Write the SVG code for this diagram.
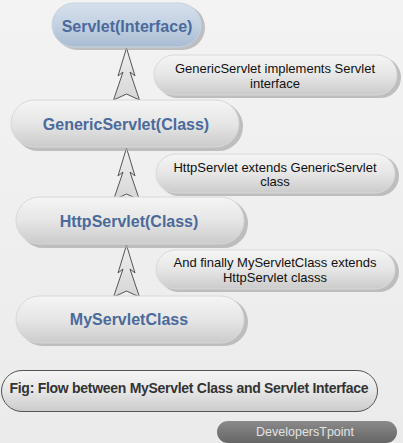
<svg xmlns="http://www.w3.org/2000/svg" width="403" height="443" viewBox="0 0 403 443">
<defs>
<linearGradient id="bg" x1="0" y1="0" x2="0" y2="1"><stop offset="0" stop-color="#f3f3f3"/><stop offset="1" stop-color="#ebebeb"/></linearGradient>
<linearGradient id="gray" x1="0" y1="0" x2="0" y2="1"><stop offset="0" stop-color="#f5f5f5"/><stop offset="0.5" stop-color="#e6e6e6"/><stop offset="1" stop-color="#cbcbcb"/></linearGradient>
<linearGradient id="blue" x1="0" y1="0" x2="0" y2="1"><stop offset="0" stop-color="#d6e0ec"/><stop offset="0.5" stop-color="#c3d1e2"/><stop offset="1" stop-color="#a9bcd3"/></linearGradient>
<linearGradient id="dark" x1="0" y1="0" x2="0" y2="1"><stop offset="0" stop-color="#8a8a8a"/><stop offset="1" stop-color="#666"/></linearGradient>
<linearGradient id="arrowfill" x1="0" y1="0" x2="0" y2="1"><stop offset="0" stop-color="#efefef"/><stop offset="1" stop-color="#d6d6d6"/></linearGradient>
<path id="arw" d="M0,0 L-8.5,28 L-3.5,24 L-13,52 L0,46 L13,52 L3.5,24 L8.5,28 Z"/>
</defs>
<style>
.shadow{fill:#a8a8a8;opacity:0.7}
.node{fill:url(#gray);stroke:#d8d8d8;stroke-width:1}
.nodeb{fill:url(#blue);stroke:#c8d4e2;stroke-width:1}
.ntext{font-family:"Liberation Sans",Arial,sans-serif;font-weight:bold;font-size:16px;fill:#4a6a9b;text-anchor:middle}
.note{fill:url(#gray);stroke:#d8d8d8;stroke-width:1}
.notetext{font-family:"Liberation Sans",Arial,sans-serif;font-size:13px;fill:#111;text-anchor:middle}
.arrow{fill:url(#arrowfill);stroke:#555;stroke-width:1;stroke-linejoin:miter}
</style>
<rect x="0" y="0" width="403" height="443" fill="url(#bg)"/>

<g id="connectors">
<use href="#arw" class="arrow" transform="translate(126.5,48)"/>
<use href="#arw" class="arrow" transform="translate(126.5,148)"/>
<use href="#arw" class="arrow" transform="translate(126.5,245)"/>
</g>

<g id="node-servlet">
<rect class="shadow" x="55" y="5" width="150" height="45" rx="22.5"/>
<rect class="nodeb" x="52" y="3" width="149" height="44" rx="22"/>
<text class="ntext" x="127" y="32">Servlet(Interface)</text>
</g>

<g id="note-1">
<rect class="shadow" x="157" y="57" width="244" height="41" rx="20.5"/>
<rect class="note" x="154" y="55" width="243" height="40" rx="20"/>
<text class="notetext" x="275" y="73">GenericServlet implements Servlet</text>
<text class="notetext" x="275" y="88">interface</text>
</g>

<g id="node-genericservlet">
<rect class="shadow" x="14" y="102" width="229" height="49" rx="24.5"/>
<rect class="node" x="11" y="100" width="228" height="47" rx="23.5"/>
<text class="ntext" x="126" y="130">GenericServlet(Class)</text>
</g>

<g id="note-2">
<rect class="shadow" x="159" y="156" width="240" height="40" rx="20"/>
<rect class="note" x="156" y="154" width="239" height="39" rx="19.5"/>
<text class="notetext" x="275" y="172">HttpServlet extends GenericServlet</text>
<text class="notetext" x="275" y="186">class</text>
</g>

<g id="node-httpservlet">
<rect class="shadow" x="19" y="199" width="229" height="49" rx="24.5"/>
<rect class="node" x="16" y="197" width="228" height="47" rx="23.5"/>
<text class="ntext" x="129" y="227">HttpServlet(Class)</text>
</g>

<g id="note-3">
<rect class="shadow" x="159" y="252" width="240" height="40" rx="20"/>
<rect class="note" x="156" y="250" width="239" height="39" rx="19.5"/>
<text class="notetext" x="275" y="267">And finally MyServletClass extends</text>
<text class="notetext" x="275" y="282">HttpServlet classs</text>
</g>

<g id="node-myservletclass">
<rect class="shadow" x="19" y="298" width="229" height="48" rx="24"/>
<rect class="node" x="16" y="296" width="228" height="47" rx="23.5"/>
<text class="ntext" x="129" y="325">MyServletClass</text>
</g>

<g id="caption">
<rect x="1.5" y="370.5" width="376" height="41" rx="20.5" fill="url(#gray)" stroke="#555" stroke-width="1"/>
<text x="189" y="393" font-family="Liberation Sans, Arial, sans-serif" font-weight="bold" font-size="14" fill="#333" text-anchor="middle" textLength="359" lengthAdjust="spacing">Fig: Flow between MyServlet Class and Servlet Interface</text>
</g>

<g id="watermark">
<rect x="217" y="421" width="180" height="22" rx="11" fill="url(#dark)"/>
<text x="305" y="436" font-family="Liberation Sans, Arial, sans-serif" font-size="12.5" fill="#e2e2e2" text-anchor="middle">DevelopersTpoint</text>
</g>
</svg>
